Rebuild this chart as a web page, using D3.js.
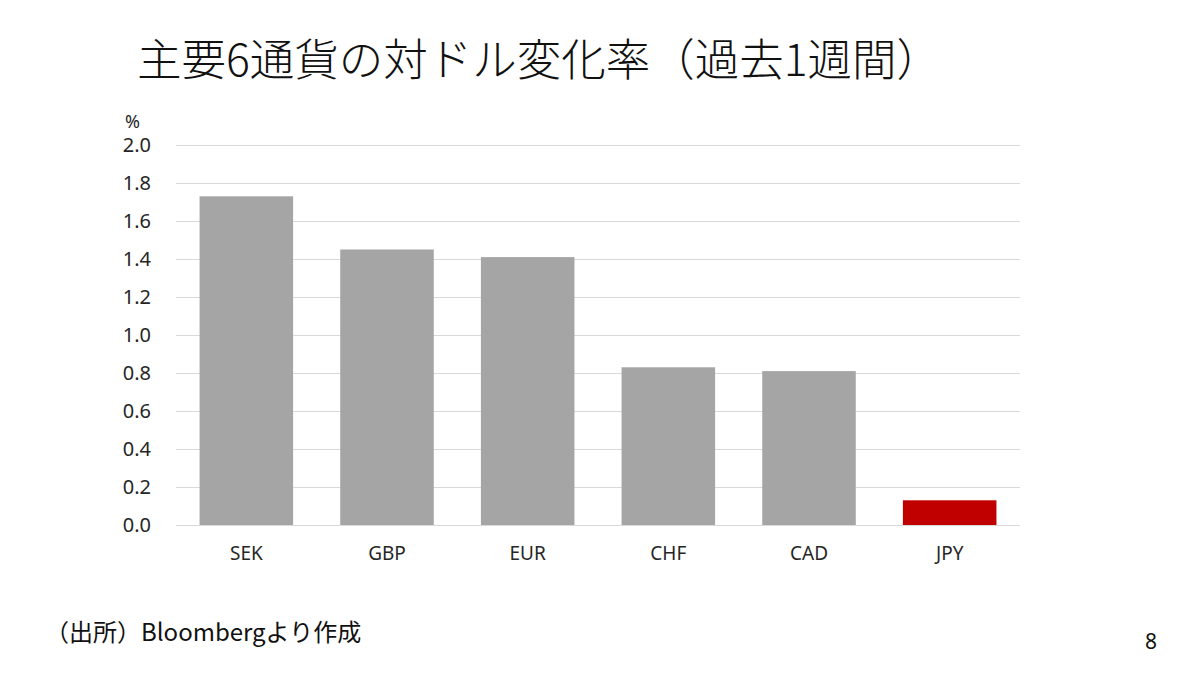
<!DOCTYPE html>
<html>
<head>
<meta charset="utf-8">
<script src="https://cdn.jsdelivr.net/npm/d3@7.9.0/dist/d3.min.js"></script>
<style>
  html, body { margin: 0; padding: 0; background: #fff; }
  svg { display: block; }
</style>
</head>
<body>
<svg id="chart" width="1200" height="675"></svg>
<script>
// ============= DATA ==================
const currencies = ["SEK", "GBP", "EUR", "CHF", "CAD", "JPY"];
const changes = [1.73, 1.45, 1.41, 0.83, 0.81, 0.13];
const yTicks = [0, 0.2, 0.4, 0.6, 0.8, 1.0, 1.2, 1.4, 1.6, 1.8, 2.0];

const title = "主要6通貨の対ドル変化率（過去1週間）";
const source = "（出所）Bloombergより作成";
const pageNo = "8";

// ============= SETUP ==================
const svg = d3.select("#chart");
const W = 1200, H = 675;
const margin = { top: 145, right: 180, bottom: 150, left: 176 };
const innerW = W - margin.left - margin.right;
const innerH = H - margin.top - margin.bottom;

const font = "'Noto Sans', 'Noto Sans CJK JP', sans-serif";
const cjkFont = "'Noto Sans CJK JP', 'Noto Sans', sans-serif";

svg.append("rect").attr("width", W).attr("height", H).attr("fill", "#fff");

const g = svg.append("g").attr("transform", `translate(${margin.left},${margin.top})`);

const x = d3.scaleBand()
  .domain(currencies)
  .range([0, innerW])
  .paddingInner(0.335)
  .paddingOuter(0.1675);

const y = d3.scaleLinear()
  .domain([0, 2.0])
  .range([innerH, 0]);

// gridlines
g.append("g")
  .selectAll("line")
  .data(yTicks)
  .join("line")
  .attr("x1", 0)
  .attr("x2", innerW)
  .attr("y1", d => Math.round(y(d)) + 0.5)
  .attr("y2", d => Math.round(y(d)) + 0.5)
  .attr("stroke", "#d9d9d9")
  .attr("stroke-width", 1);

// y axis labels
const yAxis = g.append("g")
  .call(d3.axisLeft(y).tickValues(yTicks).tickFormat(d3.format(".1f")).tickSize(0).tickPadding(25));
yAxis.select(".domain").remove();
yAxis.selectAll("text")
  .attr("font-family", font)
  .attr("font-size", 20)
  .attr("fill", "#262626");

// bars
g.selectAll("rect.bar")
  .data(currencies.map((c, i) => ({ c, v: changes[i] })))
  .join("rect")
  .attr("class", "bar")
  .attr("x", d => x(d.c))
  .attr("y", d => y(d.v))
  .attr("width", x.bandwidth())
  .attr("height", d => y(0) - y(d.v))
  .attr("fill", d => d.c === "JPY" ? "#c00000" : "#a5a5a5");

// x axis labels
const xAxis = g.append("g")
  .attr("transform", `translate(0,${innerH})`)
  .call(d3.axisBottom(x).tickSize(0).tickPadding(22));
xAxis.select(".domain").remove();
xAxis.selectAll("text")
  .attr("font-family", font)
  .attr("font-size", 19)
  .attr("fill", "#262626");

// unit label
svg.append("text")
  .attr("x", 125)
  .attr("y", 128)
  .attr("font-family", font)
  .attr("font-size", 18)
  .attr("fill", "#262626")
  .text("%");

// title
svg.append("text")
  .attr("x", 137)
  .attr("y", 76)
  .attr("font-family", cjkFont)
  .attr("font-size", 44.5)
  .attr("font-weight", 300)
  .attr("fill", "#111")
  .text(title);

// source
svg.append("text")
  .attr("x", 45)
  .attr("y", 641)
  .attr("font-family", cjkFont)
  .attr("font-size", 24)
  .attr("fill", "#111")
  .text(source);

// page number
svg.append("text")
  .attr("x", 1151)
  .attr("y", 649)
  .attr("text-anchor", "middle")
  .attr("font-family", font)
  .attr("font-size", 21)
  .attr("fill", "#111")
  .text(pageNo);
</script>
</body>
</html>
